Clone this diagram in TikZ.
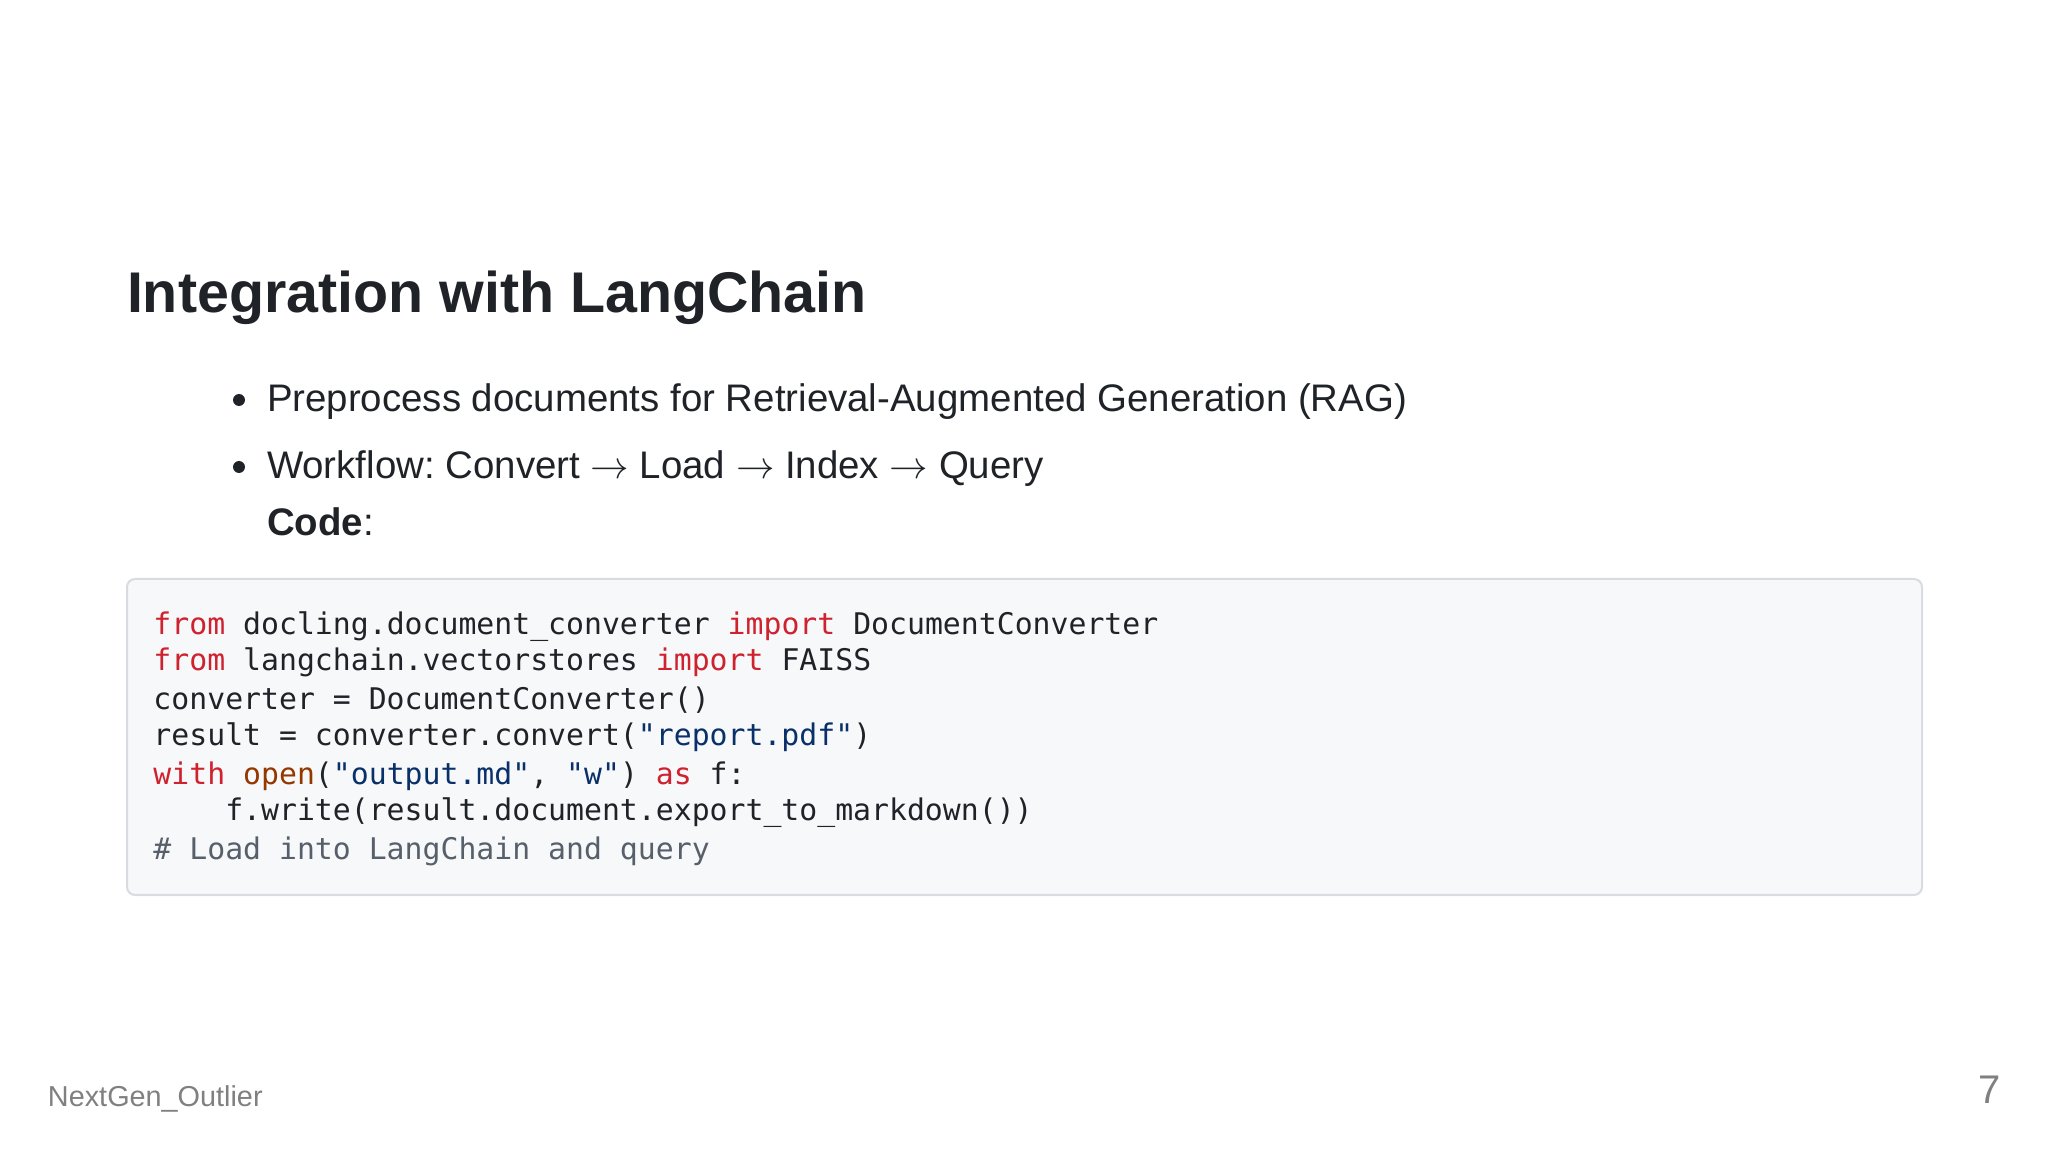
\documentclass[tikz,border=0pt]{standalone}
\usepackage{fontspec}
\usepackage{xcolor}
\setmainfont{Liberation Sans}
\setmonofont{DejaVu Sans Mono}
\definecolor{inkdark}{HTML}{1F2328}
\definecolor{codefill}{HTML}{F6F8FA}
\definecolor{codeline}{HTML}{D8DCE0}
\definecolor{kwred}{HTML}{CF222E}
\definecolor{strblue}{HTML}{0A3069}
\definecolor{fnbrown}{HTML}{953800}
\definecolor{cmtgray}{HTML}{57606A}
\definecolor{footgray}{HTML}{808080}
\newcommand{\kw}[1]{\textcolor{kwred}{#1}}
\newcommand{\strlit}[1]{\textcolor{strblue}{#1}}
\tikzset{
	flat/.style={inner sep=0pt, outer sep=0pt, anchor=base west, text=inkdark},
	slidetitle/.style={flat, font=\fontsize{16.33pt}{18pt}\selectfont\bfseries},
	slidetext/.style={flat, font=\fontsize{10.93pt}{14pt}\selectfont\frenchspacing},
	codetext/.style={flat, font=\fontsize{8.48pt}{10pt}\selectfont\ttfamily},
	foottext/.style={flat, text=footgray, font=\fontsize{8.2pt}{10pt}\selectfont}
}

\begin{document}
\begin{tikzpicture}
	\useasboundingbox (0, 0) rectangle (20.48, -11.52);
	\coordinate (T) at (1.27, -3.13);
	\coordinate (P) at (2.67, -4.12);
	\coordinate (W) at (2.67, -4.79);
	\coordinate (K) at (2.67, -5.36);
	\coordinate (F) at (0.48, -11.06);
	\coordinate (N) at (19.78, -11.03);
	
	\node[slidetitle] (title) at (T) {Integration with LangChain};
	\fill[inkdark] (2.39, -4.00) circle (0.06);
	\fill[inkdark] (2.39, -4.67) circle (0.06);
	\node[slidetext] (prep) at (P) {Preprocess documents for Retrieval-Augmented Generation (RAG)};
	\node[slidetext] (flow) at (W) {Workflow: Convert $\rightarrow$ Load $\rightarrow$ Index $\rightarrow$ Query};
	\node[slidetext] (code) at (K) {\textbf{Code}:};
	
	\draw[codeline, fill=codefill, line width=0.02cm, rounded corners=0.08cm] (1.27, -5.79) rectangle (19.22, -8.95);
	\node[codetext] (lineA) at (1.535, -6.34) {\kw{from} docling.document\_converter \kw{import} DocumentConverter};
	\node[codetext] (lineB) at (1.535, -6.71) {\kw{from} langchain.vectorstores \kw{import} FAISS};
	\node[codetext] (lineC) at (1.535, -7.09) {converter = DocumentConverter()};
	\node[codetext] (lineD) at (1.535, -7.46) {result = converter.convert(\strlit{"report.pdf"})};
	\node[codetext] (lineE) at (1.535, -7.84) {\kw{with} \textcolor{fnbrown}{open}(\strlit{"output.md"}, \strlit{"w"}) \kw{as} f:};
	\node[codetext] (lineF) at (1.535, -8.21) {\ \ \ \ f.write(result.document.export\_to\_markdown())};
	\node[codetext, text=cmtgray] (lineG) at (1.535, -8.59) {\# Load into LangChain and query};
	
	\node[foottext] (foot) at (F) {NextGen\_Outlier};
	\node[foottext, font=\fontsize{11.38pt}{14pt}\selectfont] (page) at (N) {7};
\end{tikzpicture}
\end{document}
